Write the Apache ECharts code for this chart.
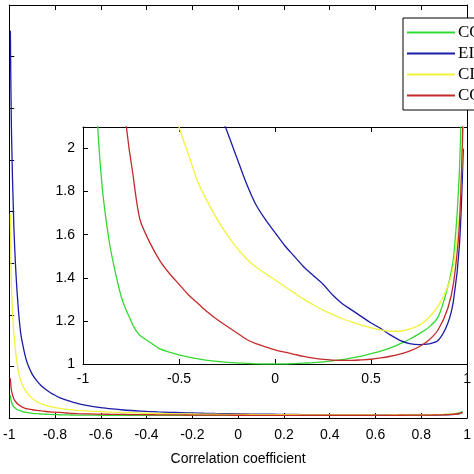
<!DOCTYPE html>
<html><head><meta charset="utf-8">
<script src="https://cdn.jsdelivr.net/npm/echarts@6/dist/echarts.min.js"></script>
<style>html,body{margin:0;padding:0;background:#fff}#c{width:474px;height:474px}</style>
</head><body><div id="c"></div>
<script>
const xs = [-0.995,-0.99,-0.98,-0.97,-0.96,-0.95,-0.94,-0.93,-0.92,-0.9,-0.88,-0.86,-0.84,-0.82,-0.8,-0.78,-0.76,-0.74,-0.72,-0.7,-0.65,-0.6,-0.55,-0.5,-0.45,-0.4,-0.35,-0.3,-0.25,-0.2,-0.15,-0.1,-0.05,0,0.05,0.1,0.15,0.2,0.25,0.3,0.35,0.4,0.45,0.5,0.55,0.6,0.65,0.7,0.75,0.8,0.85,0.9,0.93,0.96,0.98];
const seriesNames = ['CONV','EI','CI','COMB'];
const seriesColors = ['#33d833','#1c1ca8','#f2f23c','#c42a2a'];
const green = [8.8,6.0,4.3,3.6,3.1,2.75,2.5,2.25,2.05,1.82,1.67,1.55,1.46,1.38,1.31,1.26,1.22,1.18,1.15,1.13,1.10,1.07,1.055,1.042,1.032,1.024,1.017,1.012,1.008,1.005,1.003,1.001,1.0,1.0,1.0,1.002,1.004,1.006,1.01,1.015,1.02,1.028,1.037,1.048,1.06,1.075,1.093,1.115,1.14,1.17,1.22,1.36,1.5,1.9,2.6];
const blue = [150,110,75,55,42,33,28,24,21,17,14.5,12.5,11,9.8,8.8,7.9,7.2,6.6,6.1,5.6,4.7,4.0,3.5,3.1,2.8,2.55,2.35,2.2,2.08,1.96,1.84,1.74,1.67,1.61,1.55,1.5,1.45,1.41,1.37,1.32,1.28,1.25,1.22,1.19,1.165,1.135,1.11,1.095,1.09,1.093,1.11,1.19,1.3,1.55,2.0];
const yellow = [79,50,33,24,18,14.5,12.3,10.7,9.5,7.6,6.4,5.5,4.9,4.4,4.0,3.7,3.45,3.25,3.1,2.95,2.7,2.5,2.28,2.1,1.97,1.84,1.75,1.67,1.6,1.54,1.49,1.45,1.42,1.39,1.36,1.33,1.3,1.275,1.25,1.23,1.21,1.195,1.18,1.168,1.158,1.152,1.152,1.162,1.18,1.215,1.27,1.36,1.46,1.7,2.1];
const red = [15.4,10.5,7.5,6.1,5.2,4.6,4.1,3.75,3.5,3.2,2.95,2.72,2.52,2.36,2.24,2.14,2.0,1.88,1.75,1.66,1.56,1.48,1.42,1.37,1.32,1.28,1.24,1.205,1.175,1.145,1.115,1.095,1.08,1.066,1.055,1.045,1.035,1.027,1.021,1.018,1.017,1.017,1.019,1.022,1.028,1.036,1.046,1.06,1.08,1.11,1.16,1.26,1.38,1.65,2.2];
const insetYTicks = [1,1.2,1.4,1.6,1.8,2];
const ys = [green, blue, yellow, red];

const font = 'Liberation Sans, Arial, sans-serif';
const chart = echarts.init(document.getElementById('c'));
const fmt = v => String(+(+v).toFixed(1));
const axLine = {show:true, onZero:false, lineStyle:{color:'#000', width:1}};
const tick = {inside:true,length:5,lineStyle:{color:'#000'}};
const series = [];
[0,1].forEach(g => {
  ys.forEach((arr,i) => {
    series.push({
      name: seriesNames[i], type:'line', xAxisIndex: g*2, yAxisIndex: g*2,
      data: xs.map((x,k)=>[x,arr[k]]), showSymbol:false, symbol:'none', smooth:0.3,
      lineStyle:{color:seriesColors[i], width:1.3}, itemStyle:{color:seriesColors[i]},
      clip:true, z: g ? 6 : 2, animation:false
    });
  });
});
chart.setOption({
  animation:false,
  backgroundColor:'#fff',
  legend:{
    data: seriesNames, left:403, top:18, orient:'vertical', itemGap:4,
    itemWidth:48, itemHeight:16, icon:'path://M0,7 L48,7 L48,9 L0,9 Z',
    backgroundColor:'#fff', borderColor:'#000', borderWidth:1, padding:[6,40,6,4],
    textStyle:{fontFamily:'Liberation Serif, Times New Roman, serif', fontSize:17, color:'#000', padding:[0,0,0,-2]},
    z:20
  },
  grid:[
    {left:4, width:521, top:5, height:413},
    {left:83, width:411, top:127, height:237, show:true, backgroundColor:'#fff', borderWidth:0, z:4}
  ],
  xAxis:[
    {gridIndex:0, type:'value', min:-1, max:1, interval:0.2, position:'bottom',
     axisLine:axLine, axisTick:tick, splitLine:{show:false},
     axisLabel:{formatter:fmt, color:'#000', fontSize:14, fontFamily:font, margin:10},
     name:'Correlation coefficient', nameLocation:'middle', nameGap:34,
     nameTextStyle:{fontSize:14, fontFamily:font, color:'#000'}},
    {gridIndex:0, type:'value', min:-1, max:1, interval:0.2, position:'top',
     axisLine:axLine, axisTick:tick, axisLabel:{show:false}, splitLine:{show:false}},
    {gridIndex:1, type:'value', min:-1, max:1, interval:0.5, position:'bottom', z:6,
     axisLine:axLine, axisTick:tick, splitLine:{show:false},
     axisLabel:{formatter:fmt, color:'#000', fontSize:14, fontFamily:font, margin:8}},
    {gridIndex:1, type:'value', min:-1, max:1, interval:0.5, position:'top', z:6,
     axisLine:axLine, axisTick:tick, axisLabel:{show:false}, splitLine:{show:false}}
  ],
  yAxis:[
    {gridIndex:0, type:'value', min:0, max:160, interval:20, position:'left',
     axisLine:axLine, axisTick:tick, axisLabel:{show:false}, splitLine:{show:false}},
    {gridIndex:0, type:'value', min:0, max:160, interval:20, position:'right',
     axisLine:axLine, axisTick:{show:false}, axisLabel:{show:false}, splitLine:{show:false}},
    {gridIndex:1, type:'value', min:1, max:2.1, interval:0.2, position:'left', z:6,
     axisLine:axLine, axisTick:tick, splitLine:{show:false},
     axisLabel:{formatter:v=>insetYTicks.includes(+(+v).toFixed(1))?fmt(v):'', showMaxLabel:false, color:'#000', fontSize:14, fontFamily:font, margin:8}},
    {gridIndex:1, type:'value', min:1, max:2.1, interval:0.2, position:'right', z:6,
     axisLine:axLine, axisTick:{show:false}, axisLabel:{show:false}, splitLine:{show:false}}
  ],
  series: series
});
</script></body></html>
